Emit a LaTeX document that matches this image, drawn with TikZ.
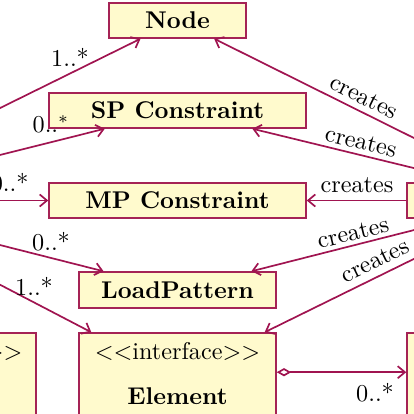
\documentclass[tikz,border=0pt]{standalone}
\usepackage{fontspec}
\usetikzlibrary{arrows.meta}
\definecolor{boxfill}{RGB}{255,250,205}
\definecolor{boxline}{RGB}{165,35,85}
\definecolor{arrcol}{RGB}{160,20,80}
\begin{document}
\begin{tikzpicture}[x=0.4132pt,y=-0.4132pt,
  box/.style={draw=boxline, fill=boxfill, line width=0.6pt, inner sep=0pt},
  conn/.style={draw=arrcol, line width=0.7pt, -{Straight Barb[length=3pt,width=5pt]}},
  agg/.style={draw=arrcol, line width=0.7pt, {Diamond[open,length=6pt,width=3.4pt]}-{Straight Barb[length=3pt,width=5pt]}},
  lbl/.style={inner sep=0pt},
]
\useasboundingbox (0,0) rectangle (414,414);
\clip (0,0) rectangle (414,414);

% boxes
\node[box, minimum width=137*0.4132pt, minimum height=35*0.4132pt, font=\bfseries] (node) at (177.5,20.5) {Node};
\node[box, minimum width=257*0.4132pt, minimum height=35*0.4132pt, font=\bfseries] (sp) at (177.5,110.5) {SP Constraint};
\node[box, minimum width=257*0.4132pt, minimum height=35*0.4132pt, font=\bfseries] (mp) at (177.5,200.5) {MP Constraint};
\node[box, minimum width=197*0.4132pt, minimum height=36*0.4132pt, font=\bfseries] (lp) at (177.5,290) {LoadPattern};
\node[box, minimum width=197*0.4132pt, minimum height=107*0.4132pt] (el) at (177.5,386.5) {};
\node[lbl, anchor=base] (elst) at (177.5,359) {<{}<interface>{}>};
\node[lbl, anchor=base, font=\bfseries] (elname) at (177.5,404) {Element};
\node[box, minimum width=186*0.4132pt, minimum height=107*0.4132pt] (lb) at (-57,386.5) {};
\node[lbl, anchor=base east] (lbst) at (23,359) {<{}<interface>{}>};
\node[box, minimum width=153*0.4132pt, minimum height=35*0.4132pt] (rf) at (483.5,200.5) {};
\node[box, minimum width=153*0.4132pt, minimum height=107*0.4132pt] (rb) at (483.5,386.5) {};

% sources off the picture
\coordinate (s1) at (-10,113);
\coordinate (s2) at (-10,157.5);
\coordinate (s3) at (-10,200.5);
\coordinate (s4) at (-10,242.5);
\coordinate (s5) at (-10,279.5);
\coordinate (r1) at (430,146);
\coordinate (r2) at (430,172);
\coordinate (r4) at (430,226);
\coordinate (r5) at (430,251);

% left associations
\draw[conn] (s1) -- (node);
\draw[conn] (s2) -- (sp);
\draw[conn] (s3) -- (mp);
\draw[conn] (s4) -- (lp);
\draw[conn] (s5) -- ([xshift=5.4pt]el.north west);

% creates
\draw[conn] (r1) -- (node);
\draw[conn] (r2) -- (sp);
\draw[conn] (rf) -- (mp);
\draw[conn] (r4) -- (lp);
\draw[conn] (r5) -- ([xshift=-5pt]el.north east);

% aggregation
\draw[agg] ([yshift=-16.5pt]el.north east) coordinate (a1) -- (a1 -| rb.west);

% multiplicities
\node[lbl] (m1) at (70,57) {1..*};
\node[lbl] (m2) at (51,124) {0..$^*$};
\node[lbl, anchor=east] (m3) at (29,183) {0..*};
\node[lbl] (m4) at (51,242) {0..*};
\node[lbl] (m5) at (34,286) {1..*};
\node[lbl] (m6) at (375,393) {0..*};

% creates labels
\node[lbl, rotate=-26.3] (c1) at (364,97) {creates};
\node[lbl, rotate=-13.7] (c2) at (361,142) {creates};
\node[lbl] (c3) at (357,185.5) {creates};
\node[lbl, rotate=13.6] (c4) at (353,233) {creates};
\node[lbl, rotate=26] (c5) at (375,261) {creates};
\end{tikzpicture}
\end{document}
